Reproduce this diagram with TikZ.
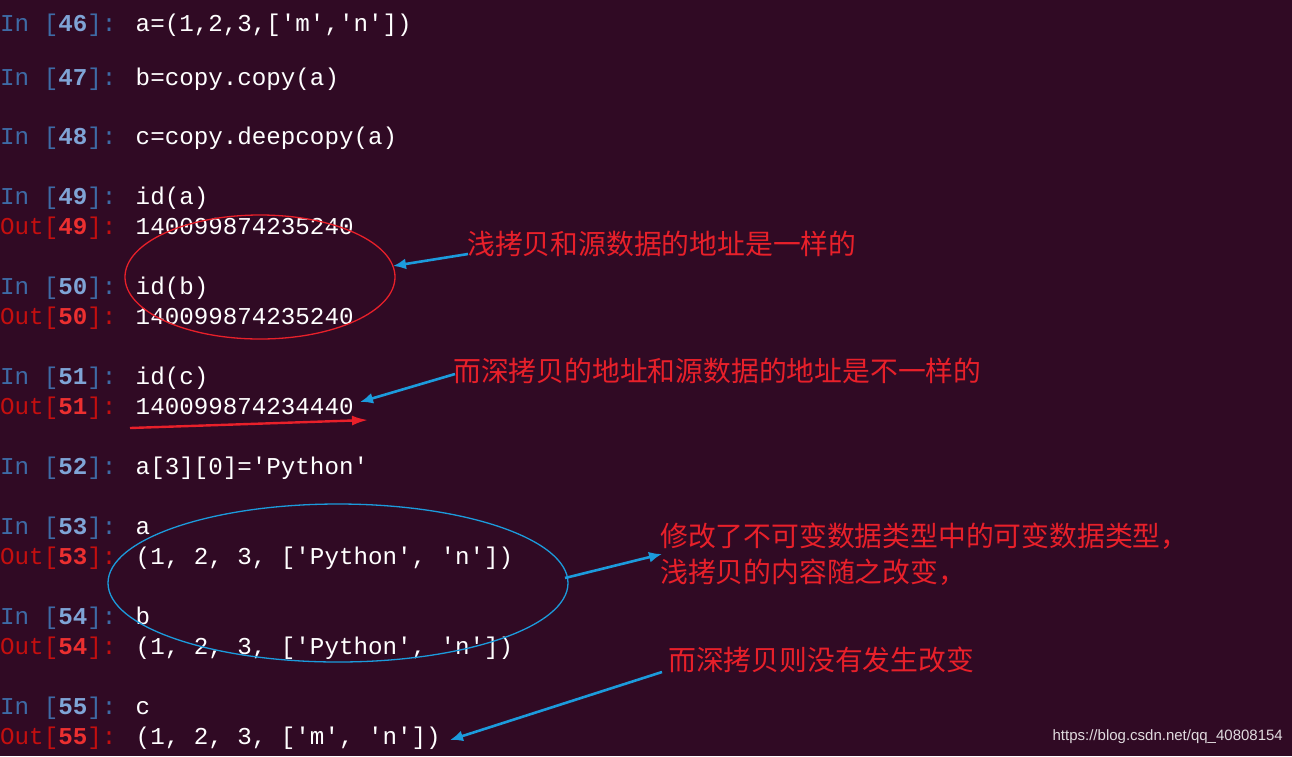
\documentclass[tikz,border=0pt]{standalone}
\usepackage{fontspec}
\newfontfamily\mono{Liberation Mono}
\newfontfamily\cjk{Noto Sans CJK SC}
\newfontfamily\wm{Liberation Sans}
\usetikzlibrary{arrows.meta,shapes.geometric}
\definecolor{bg}{HTML}{300A24}
\definecolor{inb}{HTML}{3E6BA6}
\definecolor{inn}{HTML}{7FA4D6}
\definecolor{outr}{HTML}{C40F0F}
\definecolor{outn}{HTML}{EC3030}
\definecolor{ann}{HTML}{E8202A}
\definecolor{arb}{HTML}{1C9BDC}
\newcommand{\inp}[1]{\textcolor{inb}{In [}\textcolor{inn}{\bfseries #1}\textcolor{inb}{]: }}
\newcommand{\outp}[1]{\textcolor{outr}{Out[}\textcolor{outn}{\bfseries #1}\textcolor{outr}{]: }}
\tikzset{
  code/.style={anchor=base west, inner sep=0pt, text=white, font=\mono\fontsize{24.2}{25}\selectfont},
  note/.style={anchor=west, inner sep=0pt, text=ann, font=\cjk\fontsize{27.8}{36}\selectfont, align=left},
  barrow/.style={draw=arb, line width=2.6pt, -{Latex[length=13pt,width=11pt]}},
}
\begin{document}
\begin{tikzpicture}[x=1pt,y=-1pt]
\fill[bg] (0,0) rectangle (1292,756);
\useasboundingbox (0,0) rectangle (1292,756);
\node[code] (l46) at (0,31) {\inp{46}a=(1,2,3,['m','n'])};
\node[code] (l47) at (0,85) {\inp{47}b=copy.copy(a)};
\node[code] (l48) at (0,144) {\inp{48}c=copy.deepcopy(a)};
\node[code] (l49) at (0,204) {\inp{49}id(a)};
\node[code] (o49) at (0,234) {\outp{49}140099874235240};
\node[code] (l50) at (0,294) {\inp{50}id(b)};
\node[code] (o50) at (0,324) {\outp{50}140099874235240};
\node[code] (l51) at (0,384) {\inp{51}id(c)};
\node[code] (o51) at (0,414) {\outp{51}140099874234440};
\node[code] (l52) at (0,474) {\inp{52}a[3][0]='Python'};
\node[code] (l53) at (0,534) {\inp{53}a};
\node[code] (o53) at (0,564) {\outp{53}(1, 2, 3, ['Python', 'n'])};
\node[code] (l54) at (0,624) {\inp{54}b};
\node[code] (o54) at (0,654) {\outp{54}(1, 2, 3, ['Python', 'n'])};
\node[code] (l55) at (0,714) {\inp{55}c};
\node[code] (o55) at (0,744) {\outp{55}(1, 2, 3, ['m', 'n'])};

\node[draw=ann, line width=1.3pt, ellipse, minimum width=270pt, minimum height=124pt, inner sep=0pt] (e1) at (260,277) {};
\node[draw=arb, line width=1.3pt, ellipse, minimum width=460pt, minimum height=158pt, inner sep=0pt] (e2) at (338,583) {};

\node[note] (n1) at (467,244) {浅拷贝和源数据的地址是一样的};
\node[note] (n2) at (453,371) {而深拷贝的地址和源数据的地址是不一样的};
\node[note] (n3) at (660,554) {修改了不可变数据类型中的可变数据类型，\\浅拷贝的内容随之改变，};
\node[note] (n4) at (668,660) {而深拷贝则没有发生改变};

\coordinate (a1s) at (468,254); \coordinate (a1e) at (393,266);
\coordinate (a2s) at (455,374); \coordinate (a2e) at (360,402);
\coordinate (a3s) at (565,578); \coordinate (a3e) at (662,554);
\coordinate (a4s) at (662,672); \coordinate (a4e) at (450,740);
\draw[barrow] (a1s) -- (a1e);
\draw[barrow] (a2s) -- (a2e);
\draw[barrow] (a3s) -- (a3e);
\draw[barrow] (a4s) -- (a4e);
\coordinate (r1) at (130,428); \coordinate (r2) at (368,420);
\draw[draw=ann, line width=2.4pt, -{Latex[length=16pt,width=10pt]}] (r1) -- (r2);

\node[anchor=east, inner sep=0pt, text=white!85!bg, font=\wm\fontsize{15}{15}\selectfont] (wm) at (1283,737) {https://blog.csdn.net/qq\_40808154};
\end{tikzpicture}
\end{document}
